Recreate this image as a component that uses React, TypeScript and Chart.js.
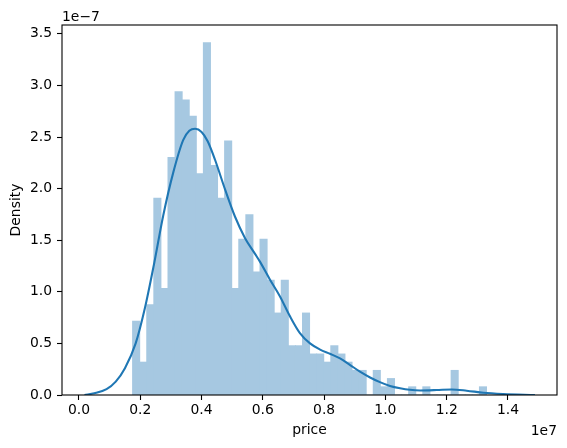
import React, { useEffect, useRef } from "react";
import { Chart, registerables } from "chart.js";

Chart.register(...registerables);

// Histogram: 50 equal bins between min and max price (in millions)
const binStart = 1.75;
const binEnd = 13.3;
// Density values (×1e-7), one per bin
const histDensity = [
  0.715, 0.318, 0.874, 1.906, 1.033, 2.303, 2.939, 2.859, 2.701, 2.145,
  3.415, 2.224, 1.906, 2.462, 1.033, 1.509, 1.747, 1.191, 1.509, 1.112,
  0.794, 1.112, 0.477, 0.477, 0.794, 0.397, 0.397, 0.318, 0.477, 0.397,
  0.318, 0.238, 0.238, 0, 0.238, 0.079, 0.159, 0, 0, 0.079,
  0, 0.079, 0, 0, 0, 0.238, 0, 0, 0, 0.079,
];

// KDE curve points: price (millions) and density (×1e-7)
const kdeX = [
  0.18, 0.5, 0.9, 1.2, 1.5, 1.85, 2.15, 2.45, 2.75, 3.08, 3.4, 3.6, 3.79, 4.0,
  4.2, 4.44, 4.77, 5.09, 5.42, 5.74, 5.91, 6.23, 6.56, 6.89, 7.21, 7.54, 7.87,
  8.19, 8.52, 8.85, 9.17, 9.5, 9.82, 10.15, 10.48, 10.8, 11.13, 11.67, 12.16,
  12.65, 13.2, 13.85, 14.88,
];
const kdeY = [
  0.0, 0.017, 0.057, 0.13, 0.26, 0.5, 0.84, 1.27, 1.74, 2.16, 2.47, 2.56, 2.58,
  2.55, 2.46, 2.28, 1.99, 1.73, 1.52, 1.37, 1.29, 1.12, 0.955, 0.76, 0.6, 0.5,
  0.44, 0.4, 0.355, 0.29, 0.226, 0.17, 0.125, 0.088, 0.065, 0.05, 0.044, 0.048,
  0.054, 0.042, 0.022, 0.01, 0.0,
];

const xTicks = [0, 2, 4, 6, 8, 10, 12, 14];
const yTicks = [0, 0.5, 1.0, 1.5, 2.0, 2.5, 3.0, 3.5];

const xMin = -0.554;
const xMax = 15.6;
const yMax = 3.586;

const FONT = "'DejaVu Sans', sans-serif";
const FS = 13.9;

export default function App() {
  const ref = useRef<HTMLCanvasElement | null>(null);

  useEffect(() => {
    if (!ref.current) return;
    const binW = (binEnd - binStart) / histDensity.length;
    const barData = histDensity.map((d, i) => ({ x: binStart + (i + 0.5) * binW, y: d }));
    const lineData = kdeX.map((x, i) => ({ x, y: kdeY[i] }));

    const frame = {
      id: "frame",
      afterDraw(chart: any) {
        const { ctx, chartArea: a } = chart;
        ctx.save();
        ctx.strokeStyle = "#000";
        ctx.lineWidth = 1.1;
        ctx.strokeRect(a.left, a.top, a.right - a.left, a.bottom - a.top);
        ctx.fillStyle = "#000";
        ctx.font = `${FS}px ${FONT}`;
        ctx.textBaseline = "alphabetic";
        ctx.textAlign = "left";
        ctx.fillText("1e\u22127", a.left, 21);
        ctx.textAlign = "right";
        ctx.fillText("1e7", a.right, 435);
        ctx.restore();
      },
    };

    const chart = new Chart(ref.current, {
      type: "bar",
      data: {
        datasets: [
          {
            type: "bar",
            data: barData as any,
            backgroundColor: "rgb(166,200,225)",
            borderWidth: 0,
            inflateAmount: 0.5,
            barPercentage: 1,
            categoryPercentage: 1,
            order: 1,
          } as any,
          {
            type: "line",
            data: lineData as any,
            borderColor: "#1f77b4",
            borderWidth: 2.08,
            pointRadius: 0,
            cubicInterpolationMode: "monotone",
            fill: false,
            order: 0,
          } as any,
        ],
      },
      options: {
        responsive: false,
        animation: false,
        events: [],
        layout: { padding: { left: 0, right: 10, top: 25, bottom: 0 } },
        plugins: { legend: { display: false }, tooltip: { enabled: false } },
        scales: {
          x: {
            type: "linear",
            min: xMin,
            max: xMax,
            offset: false,
            afterBuildTicks: (s: any) => {
              s.ticks = xTicks.map((v) => ({ value: v }));
            },
            afterFit: (s: any) => {
              s.height = 53;
            },
            ticks: {
              callback: (v: any) => (Number(v) / 10).toFixed(1),
              color: "#000",
              font: { family: FONT, size: FS },
              padding: 2,
              maxRotation: 0,
              autoSkip: false,
            },
            grid: {
              display: true,
              drawOnChartArea: false,
              drawTicks: true,
              tickLength: 5,
              tickWidth: 1.1,
              tickColor: "#000",
              offset: false,
            },
            border: { display: false },
            title: {
              display: true,
              text: "price",
              color: "#000",
              font: { family: FONT, size: FS },
              padding: { top: 0, bottom: 9 },
            },
          },
          y: {
            type: "linear",
            min: 0,
            max: yMax,
            afterBuildTicks: (s: any) => {
              s.ticks = yTicks.map((v) => ({ value: v }));
            },
            afterFit: (s: any) => {
              s.width = 62;
            },
            ticks: {
              callback: (v: any) => Number(v).toFixed(1),
              color: "#000",
              font: { family: FONT, size: FS },
              padding: 5,
              autoSkip: false,
            },
            grid: {
              display: true,
              drawOnChartArea: false,
              drawTicks: true,
              tickLength: 5,
              tickWidth: 1.1,
              tickColor: "#000",
            },
            border: { display: false },
            title: {
              display: true,
              text: "Density",
              color: "#000",
              font: { family: FONT, size: FS },
              padding: { top: 8, bottom: 0 },
            },
          },
        },
      },
      plugins: [frame],
    } as any);

    return () => chart.destroy();
  }, []);

  return (
    <div style={{ position: "fixed", left: 0, top: 0, width: 567, height: 448, background: "#fff" }}>
      <canvas ref={ref} width={567} height={448} />
    </div>
  );
}
